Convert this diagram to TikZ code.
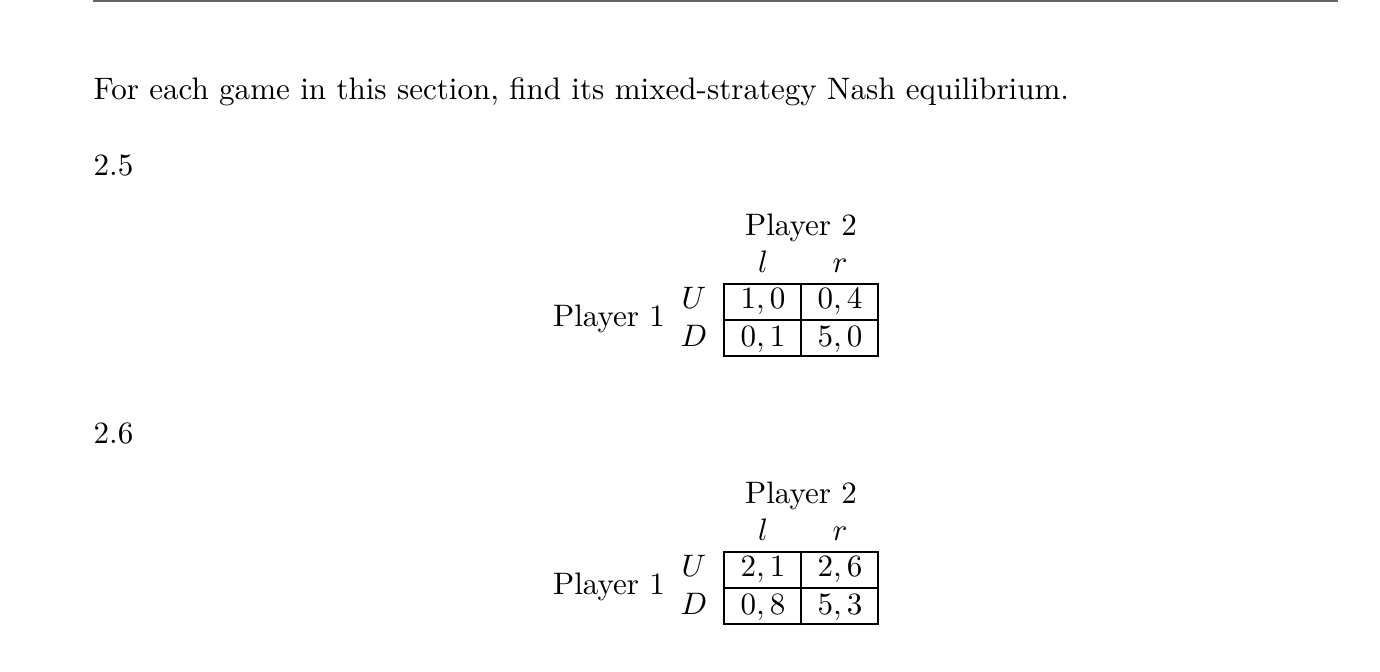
\documentclass[tikz,border=0pt]{standalone}
\begin{document}
\begin{tikzpicture}[x=0.322pt,y=-0.322pt,
  txt/.style={inner sep=0pt,anchor=base},
  grid/.style={draw=black,line width=0.4pt}]
\useasboundingbox (0,0) rectangle (1380,672);
\draw[gray!80!black,line width=0.8pt] (93,1) -- (1338,1);
\node[txt,anchor=base west] (intro) at (93,99) {For each game in this section, find its mixed-strategy Nash equilibrium.};
\foreach \dy/\lab/\a/\b/\c/\d/\nm in {0/2.5/{1,0}/{0,4}/{0,1}/{5,0}/g1, 268/2.6/{2,1}/{2,6}/{0,8}/{5,3}/g2}{
  \begin{scope}[yshift={-\dy*0.322pt}]
  \node[txt,anchor=base west] (\nm-num) at (93,175) {\lab};
  \node[txt] (\nm-p2) at (801,235) {Player 2};
  \node[txt] (\nm-l) at (763,272) {$l$};
  \node[txt] (\nm-r) at (840,272) {$r$};
  \node[txt] (\nm-p1) at (609,326) {Player 1};
  \node[txt] (\nm-U) at (694,308) {$U$};
  \node[txt] (\nm-D) at (694,346) {$D$};
  \draw[grid] (724,284) rectangle (878,356);
  \draw[grid] (724,320) -- (878,320);
  \draw[grid] (801,284) -- (801,356);
  \node[txt] (\nm-a) at (763,308) {$\a$};
  \node[txt] (\nm-b) at (840,308) {$\b$};
  \node[txt] (\nm-c) at (763,346) {$\c$};
  \node[txt] (\nm-d) at (840,346) {$\d$};
  \end{scope}}
\end{tikzpicture}
\end{document}
